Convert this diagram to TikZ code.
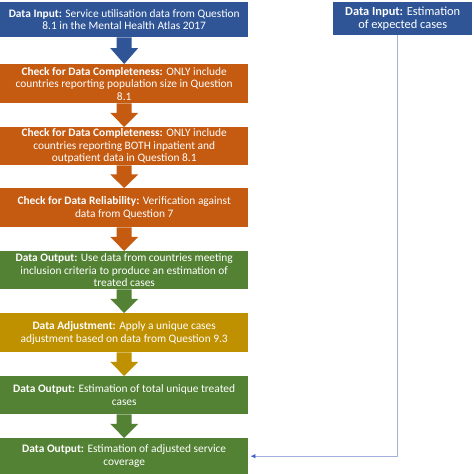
\documentclass[tikz,border=0pt]{standalone}
\usepackage{fontspec}
\setmainfont{Carlito}
\usetikzlibrary{calc,arrows.meta}
\definecolor{cblue}{HTML}{2F5597}
\definecolor{corange}{HTML}{C55A11}
\definecolor{cgreen}{HTML}{548235}
\definecolor{cgold}{HTML}{BF9000}
\definecolor{clink}{HTML}{A3B0DE}
\definecolor{ctip}{HTML}{4466C8}
\newcommand\blockarr[3]{%
  \fill[#3] ($(#1.south)+(-7.5,0)$) -- ($(#1.south)!0.4!(#2.north)+(-7.5,0)$)
    -- ($(#1.south)!0.4!(#2.north)+(-14,0)$) -- (#2.north)
    -- ($(#1.south)!0.4!(#2.north)+(14,0)$) -- ($(#1.south)!0.4!(#2.north)+(7.5,0)$)
    -- ($(#1.south)+(7.5,0)$) -- cycle;}
\begin{document}
\begin{tikzpicture}[x=1pt,y=-1pt,
  box/.style={fill=#1, text=white, minimum width=248pt, inner sep=0pt, align=center,
    font=\fontsize{11.4}{12.6}\selectfont, anchor=north west},
  link/.style={draw=clink, line width=0.8pt, -{Latex[length=5pt,width=4.5pt,color=ctip]}}]
\useasboundingbox (0,0) rectangle (474,474);
\node[box=cblue, minimum height=35pt] (b1) at (0,2)
  {\textbf{Data Input:} Service utilisation data from Question\\ 8.1 in the Mental Health Atlas 2017};
\node[box=corange, minimum height=39pt] (b2) at (0,64)
  {\textbf{Check for Data Completeness:} ONLY include\\ countries reporting population size in Question\\ 8.1};
\node[box=corange, minimum height=38pt] (b3) at (0,127)
  {\textbf{Check for Data Completeness:} ONLY include\\ countries reporting BOTH inpatient and\\ outpatient data in Question 8.1};
\node[box=corange, minimum height=39pt] (b4) at (0,188)
  {\textbf{Check for Data Reliability:} Verification against\\ data from Question 7};
\node[box=cgreen, minimum height=38pt] (b5) at (0,251)
  {\textbf{Data Output:} Use data from countries meeting\\ inclusion criteria to produce an estimation of\\ treated cases};
\node[box=cgold, minimum height=39pt] (b6) at (0,313)
  {\textbf{Data Adjustment:} Apply a unique cases\\ adjustment based on data from Question 9.3};
\node[box=cgreen, minimum height=38pt] (b7) at (0,376)
  {\textbf{Data Output:} Estimation of total unique treated\\ cases};
\node[box=cgreen, minimum height=36pt] (b8) at (0,438)
  {\textbf{Data Output:} Estimation of adjusted service\\ coverage};
\node[box=cblue, minimum width=139pt, minimum height=33pt, font=\fontsize{12.4}{12.4}\selectfont] (r) at (333,2)
  {\textbf{Data Input:} Estimation\\ of expected cases};
\blockarr{b1}{b2}{cblue}
\blockarr{b2}{b3}{corange}
\blockarr{b3}{b4}{corange}
\blockarr{b4}{b5}{corange}
\blockarr{b5}{b6}{cgreen}
\blockarr{b6}{b7}{cgold}
\blockarr{b7}{b8}{cgreen}
\draw[link] ([xshift=-5pt]r.south) |- ([xshift=2pt]b8.east);
\end{tikzpicture}
\end{document}
